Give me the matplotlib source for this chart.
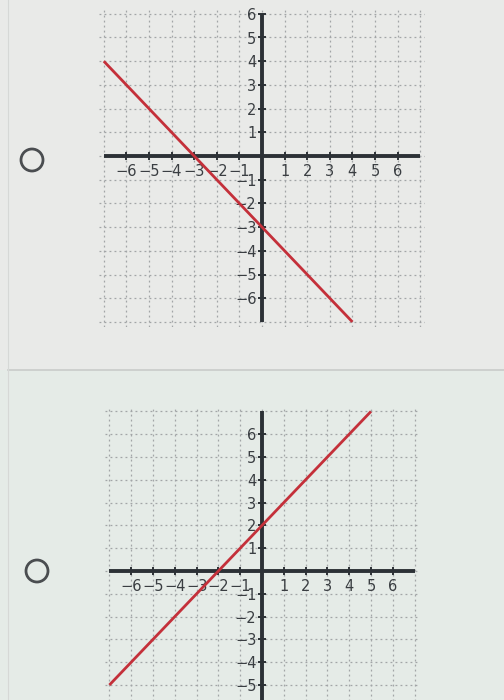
"""Two answer choices of a graphing question: the lines y = -x - 3 and y = x + 2."""
import numpy as np
import matplotlib
matplotlib.use("Agg")
import matplotlib.pyplot as plt
from matplotlib.patches import Circle, Rectangle

# choice A: y = -x - 3, drawn from x=-7 to x=4
line_a_x = [-7, 4]
line_a_y = [4, -7]
# choice B: y = x + 2, drawn from x=-7 to x=5
line_b_x = [-7, 5]
line_b_y = [-5, 7]

ticks = [-6, -5, -4, -3, -2, -1, 1, 2, 3, 4, 5, 6]
tick_labels = [str(t).replace("-", "\u2212") for t in ticks]

W, H = 504, 700
BG_TOP = "#e9eae8"
BG_BOT = "#e5ebe7"
AXIS_C = "#2c3136"
LINE_C = "#c4303a"

fig = plt.figure(figsize=(W / 100, H / 100), dpi=100)
fig.patch.set_facecolor(BG_TOP)

# page furniture in pixel coordinates
bg = fig.add_axes([0, 0, 1, 1])
bg.set_xlim(0, W)
bg.set_ylim(H, 0)
bg.axis("off")
bg.add_patch(Rectangle((0, 370), W, H - 370, color=BG_BOT, lw=0))
bg.plot([8, W], [370, 370], color="#c9cbc9", lw=1.2)
bg.plot([8, 8], [0, H], color="#d6d8d6", lw=0.8)
bg.add_patch(Circle((32, 160), 11, fill=False, ec="#4a4d50", lw=2))
bg.add_patch(Circle((37, 571), 11, fill=False, ec="#4a4d50", lw=2))


def px_axes(x0, ux, y0, uy, ylo=-7.2, yhi=7.2, lim=7.2, ytop=7):
    """axes whose origin sits at pixel (x0, y0) with ux/uy pixels per unit"""
    left = (x0 - lim * ux) / W
    width = 2 * lim * ux / W
    bottom = 1 - (y0 - ylo * uy) / H
    height = (yhi - ylo) * uy / H
    ax = fig.add_axes([left, bottom, width, height])
    ax.patch.set_alpha(0)

    for s in ("top", "right"):
        ax.spines[s].set_visible(False)
    for s in ("left", "bottom"):
        ax.spines[s].set_position("zero")
        ax.spines[s].set_linewidth(2.8)
        ax.spines[s].set_color(AXIS_C)
        ax.spines[s].set_capstyle("butt")
    ax.spines["bottom"].set_bounds(-7, 7)
    ax.spines["left"].set_bounds(-7, ytop)
    ax.set_xticks(ticks)
    ax.set_xticklabels(tick_labels)
    ax.set_yticks(ticks)
    ax.set_yticklabels(tick_labels)
    ax.set_xticks([-7, 0, 7], minor=True)
    ax.set_yticks([-7, 0, 7], minor=True)
    ax.tick_params(which="major", direction="inout", length=6, width=1.4,
                   color=AXIS_C, labelsize=10.5, labelcolor="#3a3e42", pad=1)
    ax.tick_params(axis="x", which="major", pad=2.5)
    ax.tick_params(which="minor", length=0)
    ax.grid(which="both", color="#a2a5a7", ls=(0, (1.5, 2.5)), lw=0.9)
    ax.set_axisbelow(True)

    # limits last: set_ticks would widen them
    ax.set_xlim(-lim, lim)
    ax.set_ylim(ylo, yhi)
    return ax


ax1 = px_axes(262, 22.6, 156, 23.7, yhi=6.3, ytop=6.0)
ax1.plot(line_a_x, line_a_y, color=LINE_C, lw=2, solid_capstyle="butt", zorder=5)

ax2 = px_axes(262, 21.8, 571, 22.8)
ax2.plot(line_b_x, line_b_y, color=LINE_C, lw=2, solid_capstyle="butt", zorder=5)

fig.savefig("out.png", dpi=100, facecolor=fig.get_facecolor())
